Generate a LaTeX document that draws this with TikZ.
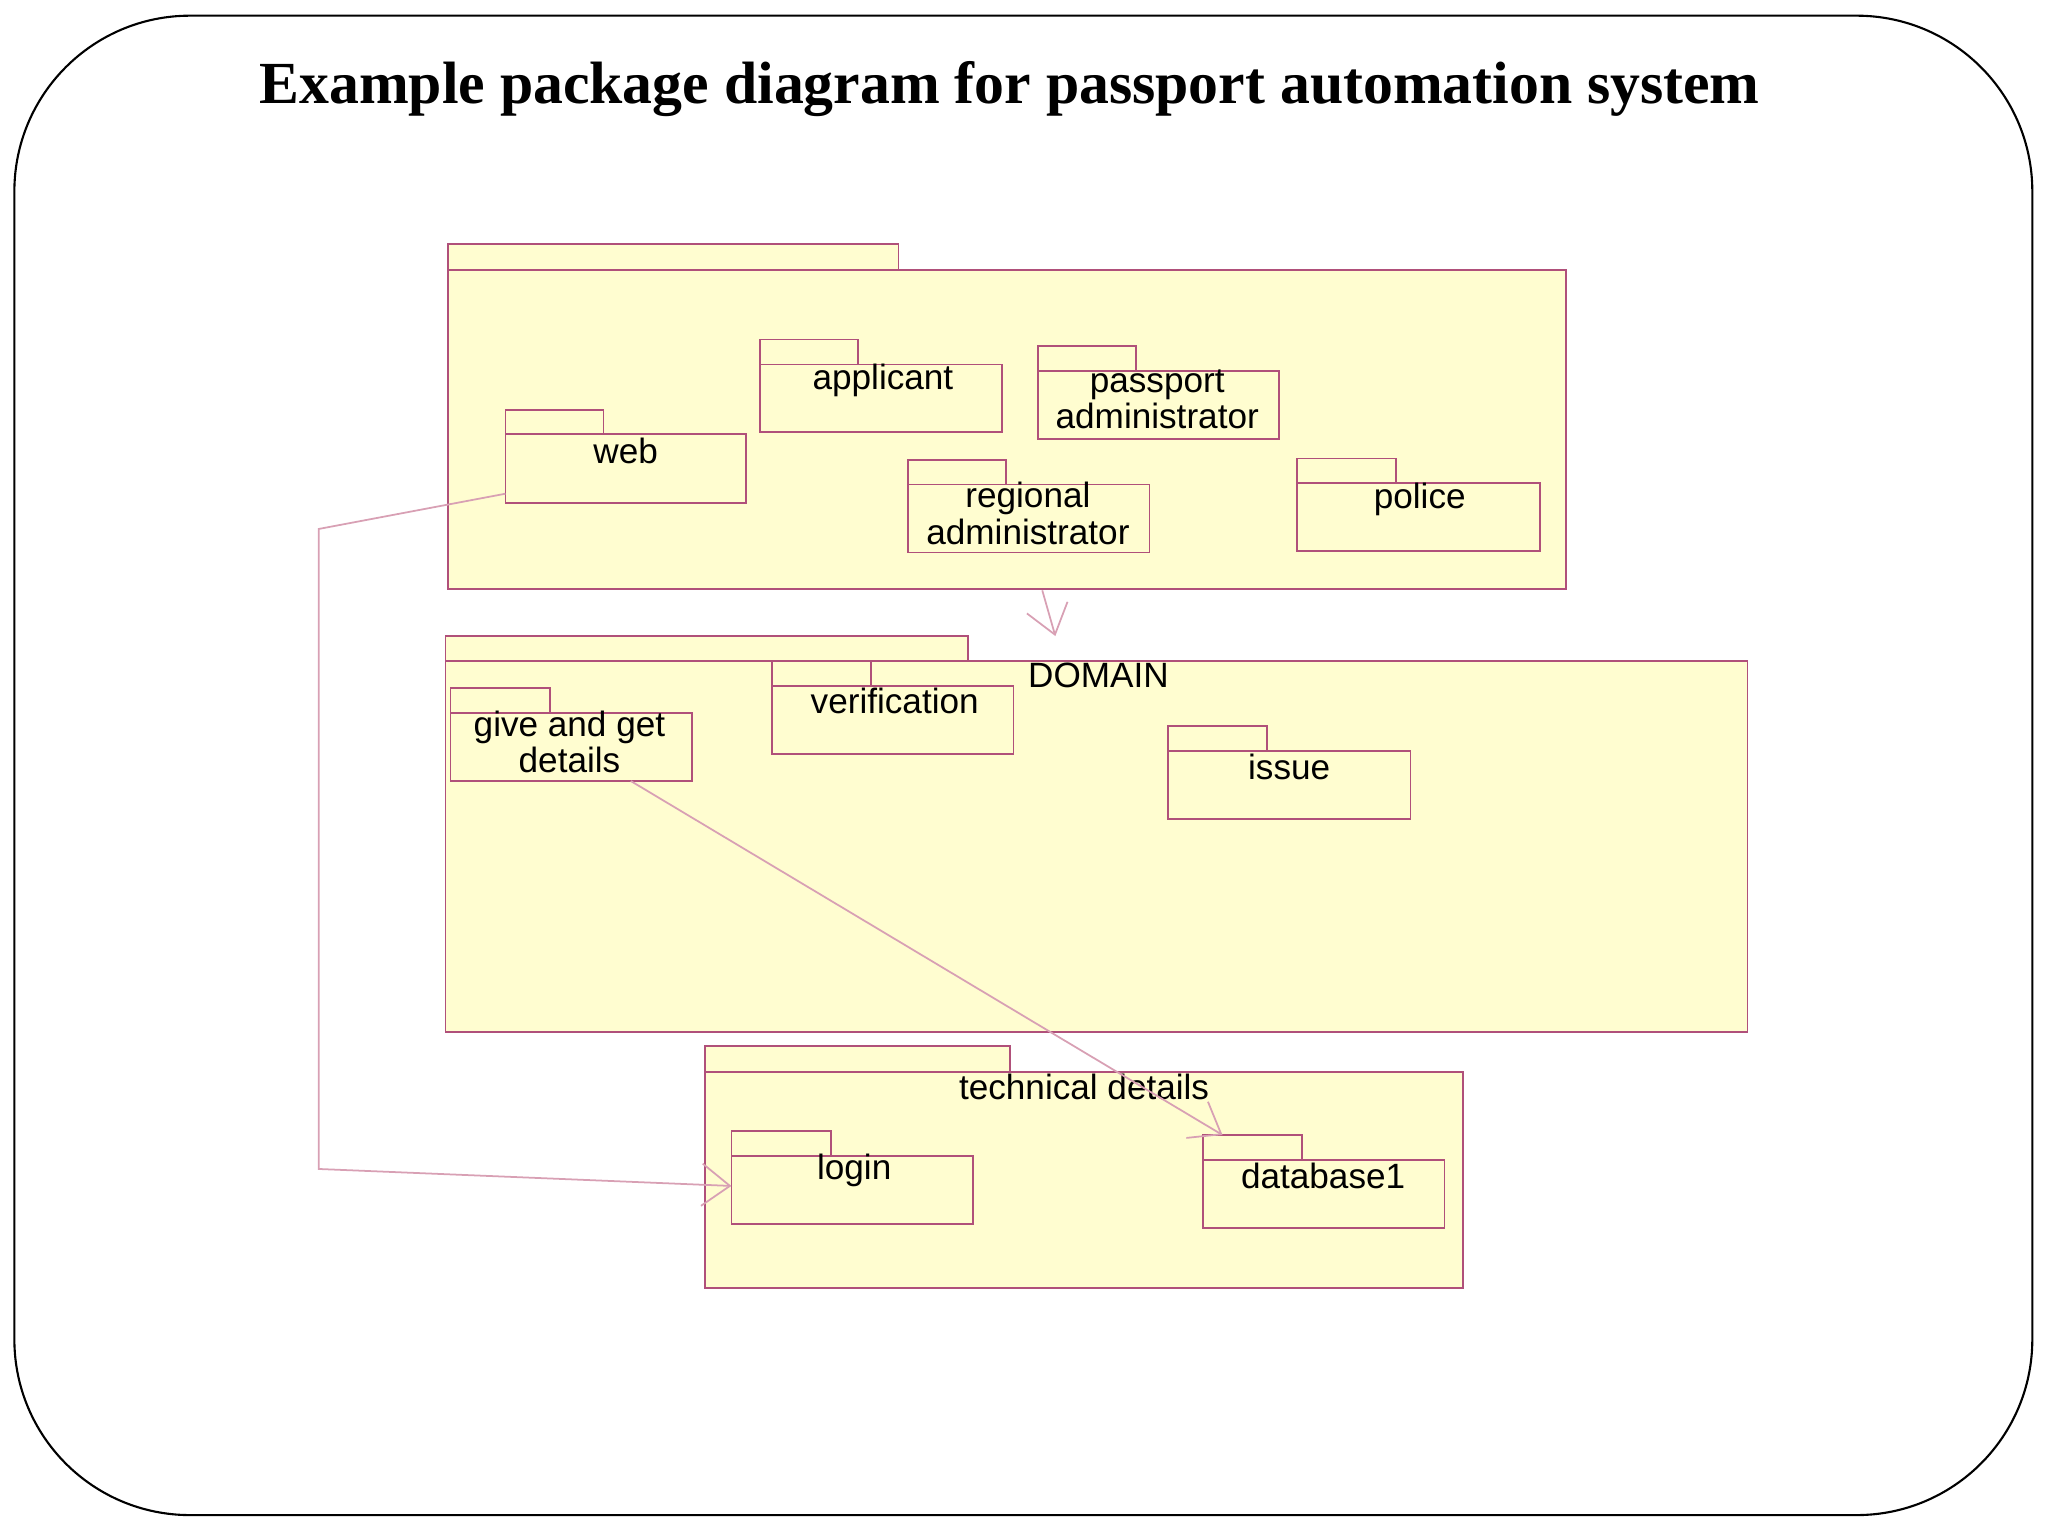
\documentclass[tikz,border=0pt]{standalone}
\usepackage{fontspec}
\setmainfont{Liberation Serif}
\newfontfamily\lab{Liberation Sans}
\usetikzlibrary{arrows.meta}
\definecolor{pfill}{HTML}{FFFDD0}
\definecolor{pline}{HTML}{B0507A}
\definecolor{cline}{HTML}{D8A0B4}
\tikzset{
 pk/.style={draw=pline,fill=pfill,line width=0.5pt},
 lb/.style={font=\lab\fontsize{10}{7.6}\selectfont,align=center,inner sep=0pt},
 dep/.style={draw=cline,line width=0.5pt,-{Straight Barb[length=8pt,width=12pt]}}
}
\newcommand{\pkgbox}[7]{% name, x1,y1(tab top), tabx2, y2(body top), x2, y3
 \path[pk] (#2,#3) rectangle (#4,#5);
 \path[pk] (#2,#5) rectangle (#6,#7);
 \coordinate (#1-nw) at (#2,#5);
 \coordinate (#1-se) at (#6,#7);
}
\begin{document}
\begin{tikzpicture}[x=0.01306cm,y=-0.01306cm]
\useasboundingbox (0,0) rectangle (1568,1176);
\draw[rounded corners=50,line width=0.6pt] (11,12) rectangle (1556,1160);
\node[font=\bfseries\fontsize{17}{20}\selectfont] (title) at (773,68) {Example package diagram for passport automation system};
% top package
\pkgbox{top}{343}{187}{688}{207}{1199}{451}
\pkgbox{web}{387}{314}{462}{332}{571}{385}
\node[lb] (webl) at (479,345) {web};
\pkgbox{app}{582}{260}{657}{279}{767}{331}
\node[lb] (appl) at (676,291) {applicant};
\pkgbox{pad}{795}{265}{870}{284}{979}{336}
\node[lb] (padl) at (886,306) {passport\\administrator};
\pkgbox{rad}{695}{352}{770}{371}{880}{423}
\node[lb] (radl) at (787,393) {regional\\administrator};
\pkgbox{pol}{993}{351}{1069}{370}{1179}{422}
\node[lb] (poll) at (1087,382) {police};
% domain
\pkgbox{dom}{341}{487}{741}{506}{1338}{790}
\node[lb] (doml) at (841,517) {DOMAIN};
\pkgbox{gg}{345}{527}{421}{546}{530}{598}
\node[lb] (ggl) at (436,568) {give and get\\details};
\pkgbox{ver}{591}{506}{667}{525}{776}{577}
\node[lb] (verl) at (685,537) {verification};
\pkgbox{iss}{894}{556}{970}{575}{1080}{627}
\node[lb] (issl) at (987,587) {issue};
% technical
\pkgbox{tec}{540}{801}{773}{821}{1120}{986}
\node[lb] (tecl) at (830,832) {technical details};
\pkgbox{log}{560}{866}{636}{885}{745}{937}
\node[lb] (logl) at (654,896) {login};
\pkgbox{db}{921}{869}{997}{888}{1106}{940}
\node[lb] (dbl) at (1013,900) {database1};
% connectors
\coordinate (a1) at (387,378);
\coordinate (a2) at (244,405);
\coordinate (a3) at (244,895);
\coordinate (a4) at (560,908);
\draw[dep] (a1) -- (a2) -- (a3) -- (a4);
\coordinate (b1) at (798,452);
\coordinate (b2) at (808,487);
\draw[dep] (b1) -- (b2);
\coordinate (c1) at (483,598);
\coordinate (c2) at (936,869);
\draw[dep] (c1) -- (c2);
\end{tikzpicture}
\end{document}
